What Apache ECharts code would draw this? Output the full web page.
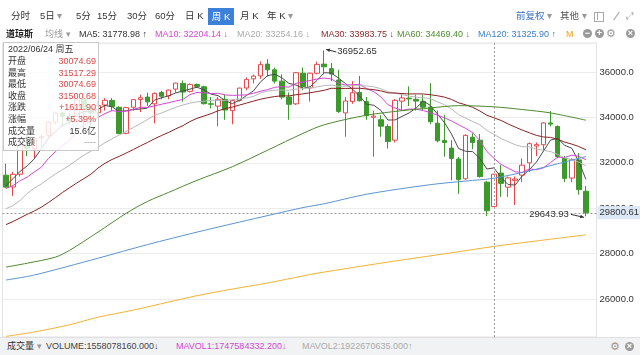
<!DOCTYPE html>
<html>
<head>
<meta charset="utf-8">
<script src="https://cdn.jsdelivr.net/npm/echarts@6/dist/echarts.min.js"></script>
<style>
html, body { margin: 0; padding: 0; background: #fff; }
body { width: 640px; height: 355px; position: relative; overflow: hidden;
  font-family: "Liberation Sans", Arial, "Noto Sans CJK SC", sans-serif; color: #333; }
#chart { position: absolute; left: 0; top: 0; width: 640px; height: 355px; }
.t { position: absolute; white-space: nowrap; line-height: 12px; }
.r1 { top: 10px; font-size: 9.5px; color: #333; }
.r2 { top: 28px; font-size: 9px; }
.tab-on { position: absolute; left: 208px; top: 8px; width: 26px; height: 17px; background: #3d80d9;
  color: #fff; font-size: 9.5px; line-height: 17px; text-align: center; }
.ic { position: absolute; width: 9px; height: 9px; border-radius: 50%; background: #9a9a9a; color: #fff;
  font-size: 9px; line-height: 9px; text-align: center; font-weight: bold; }
#tip { position: absolute; left: 3px; top: 42px; width: 92px; height: 107px; padding: 0 1px 0 1px;
  background: rgba(255,255,255,0.82); border: 1px solid #c9c9c9; font-size: 9px; z-index: 5; }
#tip .row { position: relative; height: 11.6px; line-height: 11.6px; padding-left: 3px; }
#tip .row span { position: absolute; right: 1px; top: 0; color: #e04848; }
#vol { position: absolute; left: 0; top: 337px; width: 640px; height: 18px; background: #f1f2f4;
  border-top: 1px solid #e0e0e0; font-size: 9px; line-height: 17px; z-index: 4; }
#vol .t { line-height: 17px; top: 0; }
</style>
</head>
<body>
<div id="chart"></div>

<!-- period tabs -->
<div class="t r1" style="left:11px">分时</div>
<div class="t r1" style="left:40px">5日 <span style="color:#999">▾</span></div>
<div class="t r1" style="left:76px">5分</div>
<div class="t r1" style="left:97px">15分</div>
<div class="t r1" style="left:127px">30分</div>
<div class="t r1" style="left:155px">60分</div>
<div class="t r1" style="left:185px">日 K</div>
<div class="tab-on">周 K</div>
<div class="t r1" style="left:240px">月 K</div>
<div class="t r1" style="left:267px">年 K <span style="color:#999">▾</span></div>
<div class="t r1" style="left:516px;color:#3a6fc0">前复权 <span style="color:#999">▾</span></div>
<div class="t r1" style="left:560px;color:#555">其他 <span style="color:#999">▾</span></div>
<div style="position:absolute;left:594px;top:12px;width:8px;height:8px;border:1px solid #aaa"></div>
<div style="position:absolute;left:597px;top:12px;width:1px;height:8px;background:#aaa"></div>
<div style="position:absolute;left:616px;top:11px;width:1px;height:10px;background:#aaa;transform:rotate(35deg)"></div>
<div class="t r1" style="left:626px;color:#aaa;font-size:10px">⤢</div>

<!-- moving average legend -->
<div class="t r2" style="left:6px;font-weight:bold;color:#222">道琼斯</div>
<div class="t r2" style="left:45px;color:#999">均线 ▾</div>
<div class="t r2" style="left:79px;color:#333">MA5: 31778.98 ↑</div>
<div class="t r2" style="left:155px;color:#d447d4">MA10: 32204.14 ↓</div>
<div class="t r2" style="left:237px;color:#aaa">MA20: 33254.16 ↓</div>
<div class="t r2" style="left:321px;color:#8b2a2a">MA30: 33983.75 ↓</div>
<div class="t r2" style="left:397px;color:#4c8c2c">MA60: 34469.40 ↓</div>
<div class="t r2" style="left:478px;color:#3c80c8">MA120: 31325.90 ↑</div>
<div class="t r2" style="left:566px;color:#f0a020">M</div>
<div class="ic" style="left:583px;top:29px">−</div>
<div class="ic" style="left:595px;top:29px">+</div>
<div class="t r2" style="left:606px;top:27px;color:#9a9a9a;font-size:11px">⚙</div>
<div class="ic" style="left:626px;top:29px">×</div>

<!-- info box -->
<div id="tip">
  <div class="row" style="height:13px;line-height:13px">2022/06/24 周五</div>
  <div class="row">开盘<span>30074.69</span></div>
  <div class="row">最高<span>31517.29</span></div>
  <div class="row">最低<span>30074.69</span></div>
  <div class="row">收盘<span>31500.68</span></div>
  <div class="row">涨跌<span>+1611.90</span></div>
  <div class="row">涨幅<span>+5.39%</span></div>
  <div class="row">成交量<span style="color:#333">15.6亿</span></div>
  <div class="row">成交额<span style="color:#999">----</span></div>
</div>

<!-- volume pane header -->
<div id="vol">
  <div class="t" style="left:7px;color:#333">成交量 <span style="color:#999">▾</span></div>
  <div class="t" style="left:46px;color:#444">VOLUME:1558078160.000↓</div>
  <div class="t" style="left:176px;color:#d447d4">MAVOL1:1747584332.200↓</div>
  <div class="t" style="left:302px;color:#aaa">MAVOL2:1922670635.000↑</div>
  <div class="t" style="left:610px;color:#9a9a9a;font-size:11px">⚙</div>
  <div class="ic" style="left:625px;top:4px">×</div>
</div>

<script>
// weekly bars, Dow Jones, 2021/02/26 .. 2022/09 (last week still open)
const dates = [
  '2021/02/26','2021/03/05','2021/03/12','2021/03/19','2021/03/26','2021/04/01','2021/04/09','2021/04/16','2021/04/23','2021/04/30',
  '2021/05/07','2021/05/14','2021/05/21','2021/05/28','2021/06/04','2021/06/11','2021/06/18','2021/06/25','2021/07/02','2021/07/09',
  '2021/07/16','2021/07/23','2021/07/30','2021/08/06','2021/08/13','2021/08/20','2021/08/27','2021/09/03','2021/09/10','2021/09/17',
  '2021/09/24','2021/10/01','2021/10/08','2021/10/15','2021/10/22','2021/10/29','2021/11/05','2021/11/12','2021/11/19','2021/11/26',
  '2021/12/03','2021/12/10','2021/12/17','2021/12/23','2021/12/31','2022/01/07','2022/01/14','2022/01/21','2022/01/28','2022/02/04',
  '2022/02/11','2022/02/18','2022/02/25','2022/03/04','2022/03/11','2022/03/18','2022/03/25','2022/04/01','2022/04/08','2022/04/14',
  '2022/04/22','2022/04/29','2022/05/06','2022/05/13','2022/05/20','2022/05/27','2022/06/03','2022/06/10','2022/06/17','2022/06/24',
  '2022/07/01','2022/07/08','2022/07/15','2022/07/22','2022/07/29','2022/08/05','2022/08/12','2022/08/19','2022/08/26','2022/09/02',
  '2022/09/09','2022/09/16','2022/09/21'
];

const opens = [
  31458,30940,31500,32800,32630,33100,33200,33800,34200,34050,
  33900,34800,34400,34210,34550,34750,34450,33300,34450,34790,
  34900,34600,35100,34950,35250,35500,35150,35450,35350,34600,
  34500,34800,34300,34750,35300,35700,35830,36350,36100,35600,
  34900,34600,35950,35300,35950,36350,36150,35650,34200,34700,
  35100,34700,34010,33900,33600,33000,34720,34850,34800,34700,
  34460,33750,32980,32650,32170,31300,33130,33000,31150,30074.69,
  31550,30930,31230,31460,32000,32740,32800,33760,33600,32200,
  31330,32130,30750
];
const closes = [
  30932,31496,32779,32628,33072,33153,33801,34200,34043,33875,
  34778,34382,34208,34529,34756,34480,33290,34433,34786,34870,
  34687,35061,34935,35209,35515,35120,35455,35369,34607,34584,
  34798,34326,34746,35295,35677,35820,36328,36100,35602,34899,
  34580,35971,35365,35951,36338,36231,35912,34265,34725,35089,
  34738,34079,34059,33615,32944,34755,34861,34818,34721,34451,
  33811,32977,32899,32197,31262,33213,32900,31393,29889,31500.68,
  31097,31338,31289,31900,32845,32803,33761,33707,32283,31318,
  32152,30822,29800.61
];
const lows = [
  30880,30550,31400,32300,32180,32700,33100,33700,33600,33700,
  33800,33473,33600,34000,34300,34300,33270,33260,34300,34240,
  34500,33740,34800,34800,35100,34700,35100,35300,34570,34400,
  33610,33900,33700,34700,35200,35500,35700,35800,35500,34800,
  33900,34550,35200,34700,35900,35900,35600,34200,33150,34600,
  34700,33900,32272,33150,32630,32900,34300,34500,34300,34300,
  33700,32900,32270,31230,30636,31250,32600,31350,29653,30074.69,
  30500,30500,30144,31150,31600,32300,32500,33600,32200,31150,
  31150,30600,29643.93
];
const highs = [
  31962,31600,32960,33230,33100,33260,33830,34256,34256,34200,
  34811,35091,34500,34700,34850,34850,34500,34470,34810,35000,
  35090,35100,35170,35230,35530,35630,35500,35500,35400,34900,
  34900,35000,34800,35310,35765,35890,36470,36570,36200,35900,
  35100,36000,36200,35970,36460,36952.65,36400,36100,34900,35600,
  35830,34900,34300,34100,33700,34810,35000,35370,35000,35000,
  35510,34300,34120,33000,32260,33260,33300,33270,31200,31517.29,
  31900,31400,31400,32200,32900,32900,33800,34281,33650,32300,
  32200,32430,30980
];

// moving averages as shown on the chart
const ma5 = [
  31003,31306,31632,31866,32181,32626,33087,33371,33654,33814,
  34139,34256,34257,34354,34531,34471,34253,34298,34349,34372,
  34413,34767,34868,34952,35081,35168,35247,35334,35213,35027,
  34963,34737,34612,34750,34968,35173,35573,35844,35905,35750,
  35502,35430,35283,35353,35641,35971,35959,35739,35494,35244,
  34946,34579,34538,34316,33887,33890,34047,34199,34420,34721,
  34532,34156,33772,33267,32629,32510,32494,32193,31731,31779,
  31356,31044,31023,31425,31694,32035,32520,33003,33080,32774,
  32644,32056,31275
];
const ma10 = [
  30873,31003,31220,31373,31599,31814,32196,32501,32760,32998,
  33383,33671,33814,34004,34173,34305,34254,34277,34352,34451,
  34442,34510,34583,34651,34727,34791,35007,35101,35083,35054,
  35065,34992,34973,34982,34998,35068,35155,35228,35328,35359,
  35337,35502,35564,35629,35695,35737,35695,35511,35424,35443,
  35459,35269,35139,34905,34566,34418,34313,34368,34368,34304,
  34211,34101,33985,33843,33675,33521,33325,32982,32499,32204,
  31933,31769,31608,31578,31737,31696,31782,32013,32252,32234,
  32340,32288,32139
];
const ma20 = [
  29980,30124,30346,30653,30890,31074,31301,31515,31706,31898,
  32128,32337,32517,32689,32886,33060,33225,33389,33556,33725,
  33912,34091,34198,34327,34450,34548,34631,34689,34717,34753,
  34754,34751,34778,34816,34862,34929,35081,35164,35205,35207,
  35201,35247,35268,35305,35347,35402,35425,35370,35376,35401,
  35398,35386,35351,35267,35131,35077,35004,34940,34896,34873,
  34835,34685,34562,34374,34120,33970,33819,33675,33434,33254,
  33072,32935,32797,32711,32706,32608,32553,32498,32376,32219,
  32136,32028,31874
];
const ma30 = [
  29281,29417,29578,29735,29882,30050,30254,30472,30701,30908,
  31114,31306,31502,31770,31984,32151,32285,32436,32588,32749,
  32899,33061,33206,33343,33499,33637,33819,33960,34065,34168,
  34297,34391,34457,34545,34632,34721,34805,34869,34921,34955,
  34948,35001,35040,35087,35140,35198,35286,35280,35278,35285,
  35287,35254,35225,35172,35086,35074,35054,35036,35040,35035,
  35002,34957,34896,34793,34645,34559,34444,34287,34097,33984,
  33868,33713,33577,33442,33326,33212,33140,33121,33040,32914,
  32828,32719,32577
];
// long averages, read at [week index, value]
const ma60 = [[0,27410],[3,27580],[7,27850],[9,28150],[13,28950],[17,29780],[20,30300],[23,30700],
  [27,31230],[32,31830],[37,32560],[42,33300],[45,33680],[51,34100],[56,34300],[60,34420],
  [64,34520],[69,34469],[73,34350],[77,34200],[82,33880]];
const ma120 = [[0,26840],[4,27060],[13,27800],[20,28400],[27,28950],[33,29390],[42,30030],[45,30200],
  [51,30620],[60,31040],[65,31200],[69,31326],[74,31650],[78,31960],[82,32280]];
const ma250 = [[0,24360],[4,24550],[9,24870],[13,25200],[18,25515],[23,25870],[27,26150],[32,26440],
  [37,26710],[42,27020],[44,27140],[54,27630],[63,28040],[69,28320],[75,28560],[82,28830]];

const lastPrice = 29800.61;
const crossDate = '2022/06/24';
const highMark = [45, 36952.65];
const lowMark = [82, 29643.93];

const red = '#e8474a', green = '#3b9a2b';
const categories = dates.concat(['']);   // one empty slot on the right edge
const candles = opens.map((o, i) => [o, closes[i], lows[i], highs[i]]);

const maLine = (name, data, color, smooth) => ({
    name: name,
    type: 'line',
    data: data,
    symbol: 'none',
    smooth: smooth ? 0.3 : false,
    silent: true,
    z: 3,
    lineStyle: { color: color, width: 1 },
    itemStyle: { color: color }
});

const chart = echarts.init(document.getElementById('chart'));
chart.setOption({
    animation: false,
    backgroundColor: '#fff',
    grid: {
        left: 2.5, right: 43.5, top: 43, bottom: 18,
        show: true, borderColor: '#e3e3e3', borderWidth: 1,
        containLabel: false, outerBoundsMode: 'none'
    },
    xAxis: {
        type: 'category',
        data: categories,
        boundaryGap: true,
        axisLine: { show: false },
        axisTick: { show: false },
        axisLabel: { show: false },
        splitLine: { show: false }
    },
    yAxis: {
        type: 'value',
        position: 'right',
        min: 24330,
        max: 37280,
        splitNumber: 6,
        minInterval: 2000,
        maxInterval: 2000,
        axisLine: { show: false },
        axisTick: { show: false },
        axisLabel: {
            formatter: v => v.toFixed(1),
            margin: 3,
            fontSize: 9.5,
            color: '#333',
            fontFamily: 'Liberation Sans',
            showMinLabel: false,
            showMaxLabel: false
        },
        splitLine: { lineStyle: { color: '#ececec' } }
    },
    series: [
        {
            name: 'K',
            type: 'candlestick',
            data: candles,
            barWidth: 5,
            z: 2,
            itemStyle: {
                color: '#fff',
                color0: green,
                borderColor: red,
                borderColor0: green,
                borderWidth: 1
            },
            markLine: {
                silent: true,
                symbol: ['none', 'none'],
                animation: false,
                data: [
                    {
                        yAxis: lastPrice,
                        lineStyle: { color: '#9a9a9a', type: [2, 2], width: 1 },
                        label: {
                            show: true, position: 'end', distance: 1,
                            formatter: lastPrice.toFixed(2),
                            color: '#333', fontSize: 9.5, fontFamily: 'Liberation Sans',
                            backgroundColor: '#dce8f6', padding: [2, 2, 1, 2]
                        }
                    },
                    {
                        xAxis: crossDate,
                        lineStyle: { color: '#9a9a9a', type: [2, 2], width: 1 },
                        label: { show: false }
                    }
                ]
            }
        },
        maLine('MA5', ma5, '#4a4a4a'),
        maLine('MA10', ma10, '#d646d6'),
        maLine('MA20', ma20, '#b8b8b8'),
        maLine('MA30', ma30, '#8b2323'),
        maLine('MA60', ma60, '#4e8a2e', true),
        maLine('MA120', ma120, '#5b95d6', true),
        maLine('MA250', ma250, '#f2b233', true)
    ]
});

// arrows + labels for the period high and low, placed through the axes
const arrow = (x1, y1, x2, y2) => {
    const a = Math.atan2(y2 - y1, x2 - x1), s = 4;
    return [
        { type: 'line', silent: true, z: 10, shape: { x1: x1, y1: y1, x2: x2, y2: y2 }, style: { stroke: '#333', lineWidth: 1 } },
        { type: 'polygon', silent: true, z: 10, shape: { points: [
            [x2, y2],
            [x2 - s * Math.cos(a - 0.45), y2 - s * Math.sin(a - 0.45)],
            [x2 - s * Math.cos(a + 0.45), y2 - s * Math.sin(a + 0.45)]
        ] }, style: { fill: '#333' } }
    ];
};
const hp = chart.convertToPixel({ xAxisIndex: 0, yAxisIndex: 0 }, highMark);
const lp = chart.convertToPixel({ xAxisIndex: 0, yAxisIndex: 0 }, lowMark);
chart.setOption({
    graphic: [].concat(
        arrow(hp[0] + 12, hp[1] + 1.5, hp[0] + 2, hp[1] - 1),
        [{ type: 'text', silent: true, z: 10, style: { text: highMark[1].toFixed(2), x: hp[0] + 13, y: hp[1] + 1,
            fill: '#333', fontSize: 9.5, fontFamily: 'Liberation Sans', verticalAlign: 'middle', align: 'left' } }],
        arrow(lp[0] - 15, lp[1] - 2, lp[0] - 2, lp[1] + 1),
        [{ type: 'text', silent: true, z: 10, style: { text: lowMark[1].toFixed(2), x: lp[0] - 17, y: lp[1] - 1.5,
            fill: '#333', fontSize: 9.5, fontFamily: 'Liberation Sans', verticalAlign: 'middle', align: 'right' } }]
    )
});
</script>
</body>
</html>
